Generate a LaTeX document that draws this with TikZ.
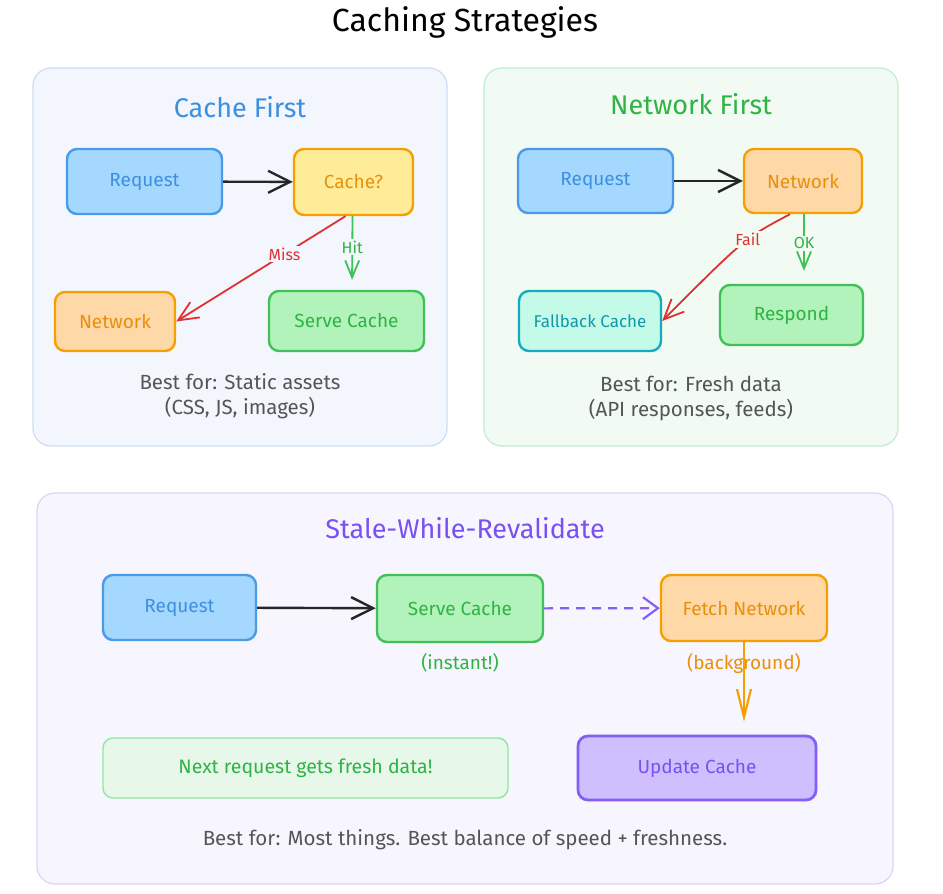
\documentclass[tikz,border=0pt]{standalone}
\usepackage{fontspec}
\setmainfont{Fira Sans}
\usetikzlibrary{arrows.meta}
\definecolor{bluefill}{HTML}{A5D8FF}
\definecolor{bluestroke}{HTML}{4A9AE8}
\definecolor{bluetext}{HTML}{3D8FE0}
\definecolor{yelfill}{HTML}{FFEC99}
\definecolor{orstroke}{HTML}{F59F00}
\definecolor{ortext}{HTML}{E8900C}
\definecolor{orfill}{HTML}{FFD8A8}
\definecolor{grfill}{HTML}{B2F2BB}
\definecolor{grstroke}{HTML}{40C057}
\definecolor{grtext}{HTML}{2FB344}
\definecolor{cyfill}{HTML}{C3FAE8}
\definecolor{cystroke}{HTML}{15AABF}
\definecolor{cytext}{HTML}{1098AD}
\definecolor{pufill}{HTML}{D0BFFF}
\definecolor{pustroke}{HTML}{845EF7}
\definecolor{putext}{HTML}{7950F2}
\definecolor{redline}{HTML}{E03131}
\definecolor{panAfill}{HTML}{F3F7FD}
\definecolor{panAstroke}{HTML}{CCDDF3}
\definecolor{panBfill}{HTML}{F1FBF3}
\definecolor{panBstroke}{HTML}{C3EBCD}
\definecolor{panCfill}{HTML}{F7F5FE}
\definecolor{panCstroke}{HTML}{DCD4F6}
\definecolor{nextfill}{HTML}{E7F8EB}
\definecolor{nextstroke}{HTML}{8CE99A}
\definecolor{greytext}{HTML}{555555}
\tikzset{
  panel/.style={draw, line width=1.2pt, rounded corners=18pt},
  box/.style={draw, line width=2.4pt, rounded corners=10pt, inner sep=0pt, font=\fontsize{19}{21}\selectfont},
  blackconn/.style={line width=2.4pt, -{Straight Barb[length=22pt,width=22pt,line width=2.4pt]}},
  redconn/.style={line width=1.8pt, -{Straight Barb[length=20pt,width=18pt,line width=1.8pt]}},
  greenconn/.style={line width=1.8pt, -{Straight Barb[length=17pt,width=14pt,line width=1.8pt]}},
  orconn/.style={line width=2.2pt, -{Straight Barb[length=28pt,width=14pt,line width=2.2pt]}},
  puconn/.style={line width=2.2pt, -{Straight Barb[length=15pt,width=22pt,line width=2.2pt]}},
  lbl/.style={font=\fontsize{16}{18}\selectfont, inner sep=2pt},
  note/.style={font=\fontsize{20.5}{25}\selectfont, text=greytext, align=center},
  ptitle/.style={font=\fontsize{27}{30}\selectfont}
}
\begin{document}
\begin{tikzpicture}[x=1pt,y=-1pt]
\useasboundingbox (0,0) rectangle (943,894);
\fill[white] (0,0) rectangle (943,894);
\node[font=\fontsize{32}{36}\selectfont] (title) at (465,22) {Caching Strategies};
% panels
\draw[panel, fill=panAfill, draw=panAstroke] (33,68) rectangle (447,446);
\draw[panel, fill=panBfill, draw=panBstroke] (484,68) rectangle (898,446);
\draw[panel, fill=panCfill, draw=panCstroke] (37,493) rectangle (893,884);
% ---- Cache First
\node[ptitle, text=bluetext] (tA) at (240,107) {Cache First};
\node[box, fill=bluefill, draw=bluestroke, text=bluetext, minimum width=155pt, minimum height=65pt] (reqA) at (144.5,181.5) {Request};
\node[box, fill=yelfill, draw=orstroke, text=ortext, minimum width=119pt, minimum height=66pt] (cacheA) at (353.5,182) {Cache?};
\node[box, fill=orfill, draw=orstroke, text=ortext, minimum width=120pt, minimum height=59pt] (netA) at (115,321.5) {Network};
\node[box, fill=grfill, draw=grstroke, text=grtext, minimum width=155pt, minimum height=60pt] (serveA) at (346.5,321) {Serve Cache};
\draw[blackconn, black!85] (reqA) -- (cacheA);
\draw[redconn, redline] ([xshift=-8pt]cacheA.south) -- (netA.east)
  node[pos=0.36, lbl, text=redline, fill=panAfill] (missA) {Miss};
\draw[greenconn, grstroke, shorten >=10pt] ([xshift=-1pt]cacheA.south) -- ([xshift=5.5pt]serveA.north)
  node[pos=0.42, lbl, text=grtext, fill=panAfill] (hitA) {Hit};
\node[note] (bestA) at (240,396) {Best for: Static assets\\(CSS, JS, images)};
% ---- Network First
\node[ptitle, text=grtext] (tB) at (691,104) {Network First};
\node[box, fill=bluefill, draw=bluestroke, text=bluetext, minimum width=155pt, minimum height=64pt] (reqB) at (595.5,181) {Request};
\node[box, fill=orfill, draw=orstroke, text=ortext, minimum width=118pt, minimum height=64pt] (netB) at (803,181) {Network};
\node[box, fill=cyfill, draw=cystroke, text=cytext, minimum width=142pt, minimum height=60pt, font=\fontsize{17}{19}\selectfont] (fallB) at (590,321) {Fallback Cache};
\node[box, fill=grfill, draw=grstroke, text=grtext, minimum width=143pt, minimum height=60pt] (respB) at (791.5,315) {Respond};
\draw[blackconn, black!85] (reqB) -- (netB);
\draw[redconn, redline] ([xshift=-13pt]netB.south) .. controls (745,238) .. (fallB.east)
  node[pos=0.42, lbl, text=redline, fill=panBfill] (failB) {Fail};
\draw[greenconn, grstroke, shorten >=13pt] ([xshift=1pt]netB.south) -- ([xshift=12.5pt]respB.north)
  node[pos=0.42, lbl, text=grtext, fill=panBfill] (okB) {OK};
\node[note] (bestB) at (691,398) {Best for: Fresh data\\(API responses, feeds)};
% ---- Stale-While-Revalidate
\node[ptitle, text=putext] (tC) at (465,528) {Stale-While-Revalidate};
\node[box, fill=bluefill, draw=bluestroke, text=bluetext, minimum width=153pt, minimum height=65pt] (reqC) at (179.5,607.5) {Request};
\node[box, fill=grfill, draw=grstroke, text=grtext, minimum width=166pt, minimum height=67pt] (serveC) at (460,608.5) {Serve Cache};
\node[box, fill=orfill, draw=orstroke, text=ortext, minimum width=166pt, minimum height=66pt] (fetchC) at (744,608) {Fetch Network};
\node[box, fill=pufill, draw=pustroke, text=putext, line width=2.8pt, minimum width=238pt, minimum height=64pt] (updC) at (697,768) {Update Cache};
\node[box, fill=nextfill, draw=nextstroke, text=grtext, line width=1.4pt, minimum width=405pt, minimum height=60pt, font=\fontsize{19.5}{21}\selectfont] (nextC) at (305.5,768) {Next request gets fresh data!};
\draw[blackconn, black!85] (reqC) -- (serveC);
\draw[puconn, pustroke, dash pattern=on 9pt off 7pt] (serveC) -- (fetchC);
\node[lbl, text=grtext, font=\fontsize{19}{21}\selectfont] (instC) at (460,663) {(instant!)};
\draw[orconn, orstroke, shorten >=13pt] (fetchC.south) -- (fetchC.south |- updC.north);
\node[lbl, text=ortext, font=\fontsize{19}{21}\selectfont] (bgC) at (744,663) {(background)};
\node[note] (bestC) at (465,840) {Best for: Most things. Best balance of speed + freshness.};
\end{tikzpicture}
\end{document}
